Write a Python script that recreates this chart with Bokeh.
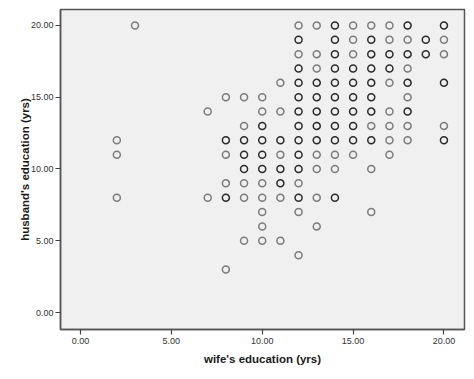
from bokeh.plotting import figure
from bokeh.models import Range1d, FixedTicker, PrintfTickFormatter, ColumnDataSource
from bokeh.embed import file_html
from bokeh.resources import INLINE

# wife's education (x), husband's education (y), number of overlapping cases (n)
wife_educ = [
    3, 12, 13, 14, 15, 16, 17, 18, 20,
    12, 14, 15, 16, 17, 18, 19, 20,
    12, 13, 14, 15, 16, 17, 18, 19, 20,
    12, 13, 14, 15, 16, 17, 18,
    11, 12, 13, 14, 15, 16, 17, 18, 20,
    8, 9, 10, 12, 13, 14, 15, 16, 18,
    7, 10, 11, 12, 13, 14, 15, 16, 17, 18,
    9, 10, 12, 13, 14, 15, 16, 17, 18, 20,
    2, 8, 9, 10, 11, 12, 13, 14, 15, 16, 17, 18, 20,
    2, 8, 9, 10, 11, 12, 13, 14, 15, 17,
    9, 10, 11, 12, 13, 14, 16,
    8, 9, 10, 11, 12,
    2, 7, 8, 9, 10, 11, 12, 13, 14,
    10, 12, 16,
    10, 13,
    9, 10, 11,
    12,
    8,
]
husband_educ = (
    [20] * 9 + [19] * 8 + [18] * 9 + [17] * 7 + [16] * 9 + [15] * 9 + [14] * 10
    + [13] * 10 + [12] * 13 + [11] * 10 + [10] * 7 + [9] * 5 + [8] * 9 + [7] * 3
    + [6] * 2 + [5] * 3 + [4] * 1 + [3] * 1
)
cases = [
    1, 1, 1, 2, 1, 1, 1, 2, 2,
    2, 2, 1, 2, 1, 1, 2, 1,
    1, 1, 2, 1, 2, 2, 2, 2, 1,
    2, 1, 2, 2, 2, 2, 1,
    1, 2, 2, 2, 2, 2, 1, 2, 2,
    1, 1, 1, 2, 2, 2, 2, 2, 1,
    1, 1, 1, 2, 2, 2, 2, 2, 1, 2,
    1, 2, 2, 2, 2, 2, 1, 1, 1, 1,
    1, 2, 2, 2, 2, 2, 2, 2, 2, 2, 1, 1, 2,
    1, 1, 2, 2, 1, 2, 1, 1, 1, 1,
    2, 2, 2, 2, 1, 1, 1,
    1, 1, 1, 2, 1,
    1, 1, 2, 1, 1, 1, 2, 1, 2,
    1, 1, 1,
    1, 1,
    1, 1, 1,
    1,
    1,
]
x_ticks = [0, 5, 10, 15, 20]
y_ticks = [0, 5, 10, 15, 20]

colors = ["#2b2b2b" if n >= 2 else "#7c7c7c" for n in cases]
src = ColumnDataSource(dict(x=wife_educ, y=husband_educ, c=colors))

p = figure(width=474, height=379,
           x_range=Range1d(-1.1, 21.13), y_range=Range1d(-1.18, 21.11),
           output_backend="svg", toolbar_location=None,
           min_border_left=60, min_border_top=9, min_border_right=10, min_border_bottom=50)
p.background_fill_color = "#f0f0f0"
p.border_fill_color = "white"
p.outline_line_color = "#555555"
p.outline_line_width = 1.5
p.grid.visible = False

p.scatter("x", "y", source=src, marker="circle", size=7, fill_color=None,
          line_color="c", line_width=1.5)

for ax, ticks in ((p.xaxis[0], x_ticks), (p.yaxis[0], y_ticks)):
    ax.ticker = FixedTicker(ticks=ticks)
    ax.formatter = PrintfTickFormatter(format="%.2f")
    ax.minor_tick_line_color = None
    ax.major_tick_in = 0
    ax.major_tick_out = 5
    ax.major_tick_line_color = "#444444"
    ax.major_tick_line_width = 1.2
    ax.axis_line_color = "#555555"
    ax.axis_line_width = 1.5
    ax.major_label_text_font = "Liberation Sans"
    ax.major_label_text_font_size = "9px"
    ax.major_label_text_color = "#333333"
    ax.axis_label_text_font = "Liberation Sans"
    ax.axis_label_text_font_size = "11.5px"
    ax.axis_label_text_font_style = "bold"
    ax.axis_label_text_color = "#1a1a1a"

p.xaxis.axis_label = "wife's education (yrs)"
p.yaxis.axis_label = "husband's education (yrs)"
p.xaxis.major_label_standoff = 3
p.yaxis.major_label_standoff = 2
p.xaxis.axis_label_standoff = 6
p.yaxis.axis_label_standoff = -3

open("out.html", "w").write(file_html(p, INLINE))
